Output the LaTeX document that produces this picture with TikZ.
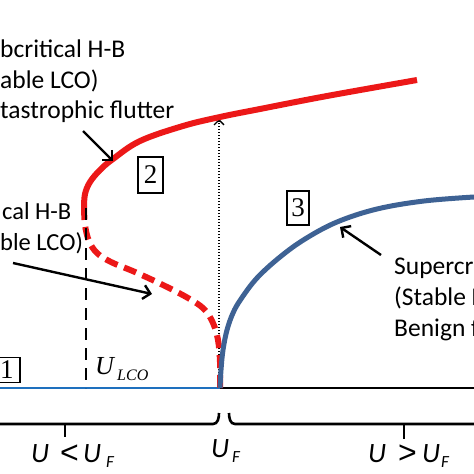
\documentclass[tikz,border=0pt]{standalone}
\usepackage{fontspec}
\setmainfont{Carlito}
\newfontfamily\numfont{Liberation Serif}
\newfontfamily\symfont{Liberation Sans}
\usetikzlibrary{arrows.meta}
\definecolor{myred}{RGB}{236,24,24}
\definecolor{steel}{RGB}{62,98,148}
\definecolor{baseblue}{RGB}{30,112,190}
\begin{document}
\begin{tikzpicture}[x=1pt,y=-1pt,
  lbl/.style={font=\fontsize{25.5}{30}\selectfont, inner sep=0pt, anchor=base west},
  lblsm/.style={font=\fontsize{24.5}{29}\selectfont, inner sep=0pt, anchor=base west},
  numbox/.style={draw, line width=1.1pt, inner sep=0pt, font=\numfont\fontsize{27}{27}\selectfont},
  callout/.style={line width=2.4pt, -{Straight Barb[length=7pt,width=14pt]}},
  redline/.style={myred, line width=6pt},
  brace/.style={line width=2.6pt},
  axl/.style={font=\fontsize{28}{28}\selectfont\itshape, inner sep=0pt, anchor=base west},
  axsub/.style={font=\fontsize{17}{17}\selectfont\itshape, inner sep=0pt, anchor=base west},
  axsym/.style={font=\symfont\fontsize{32}{32}\selectfont, inner sep=0pt, anchor=base west}]
\useasboundingbox (0,0) rectangle (474,474);
\clip (0,0) rectangle (474,474);

% axis
\coordinate (O) at (0,388);
\coordinate (UF) at (220,388);
\coordinate (E) at (474,388);
\draw[baseblue, line width=2.5pt] (O) -- (UF);
\draw[black, line width=2.5pt] (UF) -- (E);

% dotted arrow to flutter branch
\coordinate (dotbot) at (219,388);
\coordinate (dottop) at (219,119);
\draw[line width=1.4pt, dash pattern=on 1.4pt off 1.6pt, -{Straight Barb[length=5pt,width=10pt,line width=1.4pt]}] (dotbot) -- (dottop);

% red dashed (unstable) branch
\draw[redline, dash pattern=on 13pt off 7pt] plot[smooth, tension=0.6] coordinates {(220,388) (220,362) (218,340) (213,323) (204,309) (188,298) (163,285) (135,272) (111,262) (97,253) (89,241) (85,225) (84,207)};
% red solid (stable, catastrophic) branch
\draw[redline] plot[smooth, tension=0.6] coordinates {(84,207) (85,194) (90,182) (100,170) (113,159) (140,141) (183,126) (220,117) (260,109) (327,96) (417,80)};

% black dashed U_LCO line
\coordinate (lcotop) at (86,208);
\coordinate (lcobot) at (86,388);
\draw[line width=2.6pt, dash pattern=on 12pt off 8pt] (lcotop) -- (lcobot);

% blue supercritical branch
\draw[steel, line width=5pt] plot[smooth, tension=0.6] coordinates {(220,388) (221,370) (223,350) (227,330) (233,313) (241,299) (257,278) (280,257) (305,239) (337,222) (377,209) (424,201) (474,197)};

% numbered boxes
\node[numbox, minimum width=26pt, minimum height=25pt] (b1) at (7,370) {1};
\node[numbox, minimum width=25pt, minimum height=36pt] (b2) at (150.5,175) {2};
\node[numbox, minimum width=22pt, minimum height=34pt] (b3) at (298,208) {3};

% U_LCO label
\node[font=\numfont\itshape\fontsize{26}{26}\selectfont, inner sep=0pt, anchor=base west] (ulco) at (95,374) {U};
\node[font=\numfont\itshape\fontsize{16}{16}\selectfont, inner sep=0pt, anchor=base west] (ulcosub) at (117,380) {LCO};

% texts
\node[lbl] (t1) at (0,57) {bcritical H-B};
\node[lbl] (t2) at (0,88) {able LCO)};
\node[lbl] (t3) at (0,118) {tastrophic flutter};
\node[lblsm] (m1) at (2,219) {cal H-B};
\node[lblsm] (m2) at (0,250) {ble LCO)};
\node[lbl] (r1) at (394,274) {Supercr};
\node[lbl] (r2) at (394,305) {(Stable L};
\node[lbl] (r3) at (394,336) {Benign f};

% callout arrows
\coordinate (a1s) at (83,131);
\coordinate (a1e) at (113,161);
\draw[callout] (a1s) -- (a1e);
\coordinate (a2s) at (13,263);
\coordinate (a2e) at (152,294);
\draw[callout] (a2s) -- (a2e);
\coordinate (a3s) at (381,255);
\coordinate (a3e) at (340,227);
\draw[callout] (a3s) -- (a3e);

% bottom braces
\coordinate (L0) at (0,424);
\coordinate (L1) at (213,424);
\coordinate (L2) at (219,413);
\draw[brace] (L0) -- (L1) to[out=0,in=-90] (L2);
\coordinate (Lt0) at (65,424);
\coordinate (Lt1) at (65,437);
\draw[brace] (Lt0) -- (Lt1);
\coordinate (R0) at (229,413);
\coordinate (R1) at (235,424);
\coordinate (R2) at (474,424);
\draw[brace] (R0) to[out=-90,in=180] (R1) -- (R2);
\coordinate (Rt0) at (404,424);
\coordinate (Rt1) at (404,439);
\draw[brace] (Rt0) -- (Rt1);

% bottom labels
\node[axl] (u1) at (31,462) {U};
\node[axsym] (lt) at (60,463) {<};
\node[axl] (u2) at (83,462) {U};
\node[axsub] (f1) at (106,467) {F};

\node[axl] (u3) at (211,457) {U};
\node[axsub] (f2) at (232,462) {F};

\node[axl] (u4) at (368,462) {U};
\node[axsym] (gt) at (398,463) {>};
\node[axl] (u5) at (422,462) {U};
\node[axsub] (f3) at (441,467) {F};
\end{tikzpicture}
\end{document}
